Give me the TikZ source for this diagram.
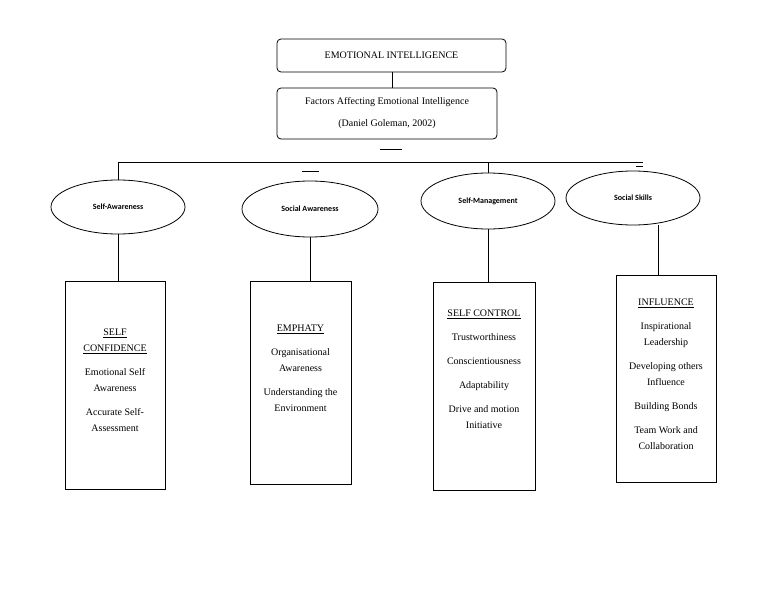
\documentclass[tikz,border=0pt]{standalone}
\usepackage{fontspec}
\setmainfont{Liberation Serif}
\newfontfamily\calib{Carlito}
\usetikzlibrary{positioning,shapes.geometric}

\begin{document}
\begin{tikzpicture}[
    x=1pt, y=-1pt,
    titlebox/.style={
        rectangle,
        draw,
        thick,
        rounded corners=4pt,
        align=center,
        font=\fontsize{10}{12}\selectfont
    },
    factor/.style={
        ellipse,
        draw,
        thick,
        inner sep=0pt,
        font=\calib\bfseries\fontsize{8}{10}\selectfont
    },
    listbox/.style={
        rectangle,
        draw,
        thick,
        inner sep=0pt
    },
    listtext/.style={
        anchor=north,
        align=center,
        inner sep=0pt,
        font=\fontsize{10}{16}\selectfont
    },
    line/.style={draw, thin}
]
\useasboundingbox (0,0) rectangle (768,594);

% Title blocks
\node [titlebox, minimum width=229pt, minimum height=33pt] (ei) at (391.5,55.5) {EMOTIONAL INTELLIGENCE};
\node [titlebox, minimum width=220pt, minimum height=51pt] (factors) at (387,113.5)
    {Factors Affecting Emotional Intelligence\\[10pt](Daniel Goleman, 2002)};

% Four factors
\node [factor, minimum width=134pt, minimum height=54pt] (selfaw) at (118,207) {Self-Awareness};
\node [factor, minimum width=136pt, minimum height=56pt] (socaw) at (310,209) {Social Awareness};
\node [factor, minimum width=134pt, minimum height=56pt] (selfman) at (488,201) {Self-Management};
\node [factor, minimum width=134pt, minimum height=54pt] (socsk) at (633,198) {Social Skills};

% Boxes
\node [listbox, minimum width=100pt, minimum height=208pt] (box1) at (115,385) {};
\node [listbox, minimum width=101pt, minimum height=203pt] (box2) at (300.5,382.5) {};
\node [listbox, minimum width=102pt, minimum height=208pt] (box3) at (484,386) {};
\node [listbox, minimum width=100pt, minimum height=207pt] (box4) at (666,378.5) {};

\node [listtext] (txt1) at (115,329) {\underline{SELF}\\\underline{CONFIDENCE}\\[8pt]Emotional Self\\Awareness\\[8pt]Accurate Self-\\Assessment};
\node [listtext] (txt2) at (300.5,325) {\underline{EMPHATY}\\[8pt]Organisational\\Awareness\\[8pt]Understanding the\\Environment};
\node [listtext] (txt3) at (484,310) {\underline{SELF CONTROL}\\[8pt]Trustworthiness\\[8pt]Conscientiousness\\[8pt]Adaptability\\[8pt]Drive and motion\\Initiative};
\node [listtext] (txt4) at (666,299) {\underline{INFLUENCE}\\[8pt]Inspirational\\Leadership\\[8pt]Developing others\\Influence\\[8pt]Building Bonds\\[8pt]Team Work and\\Collaboration};

% Connections
\coordinate (busL) at (118,162);
\coordinate (busR) at (643,162);
\draw [line] (ei.south -| 392,0) -- (factors.north -| 392,0);
\draw [line] (busL) -- (busR);
\draw [line] (busL) -- (selfaw.north);
\draw [line] (selfman.north |- busL) -- (selfman.north);
\draw [line] (selfaw.south) -- (box1.north -| selfaw.south);
\draw [line] (socaw.south) -- (box2.north -| socaw.south);
\draw [line] (selfman.south) -- (box3.north -| selfman.south);
\draw [line] (socsk.south -| 658,0) -- (box4.north -| 658,0);

% Stray marks
\draw [line] (380,149) -- (402,149);
\draw [line] (302,171) -- (319,171);
\draw [line] (636,166) -- (643,166);

\end{tikzpicture}
\end{document}
